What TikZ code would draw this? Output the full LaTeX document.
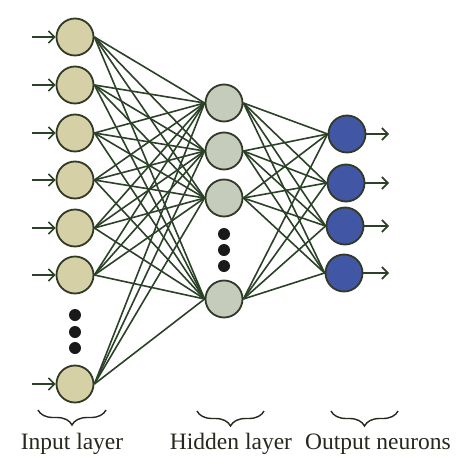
\documentclass[tikz,border=0pt]{standalone}
\usepackage{fontspec}
\setmainfont{Liberation Serif}
\usetikzlibrary{arrows.meta,decorations.pathreplacing}
\definecolor{inp}{RGB}{214,208,166}
\definecolor{hid}{RGB}{198,204,188}
\definecolor{outc}{RGB}{66,86,166}
\definecolor{edge}{RGB}{44,66,40}
\definecolor{rim}{RGB}{48,58,38}
\definecolor{txt}{RGB}{40,40,30}
\begin{document}
\begin{tikzpicture}[x=1pt,y=-1pt,
  neuron/.style={circle,draw=rim,line width=1.8pt,minimum size=37pt,inner sep=0pt},
  inneuron/.style={neuron,fill=inp},
  hidneuron/.style={neuron,fill=hid},
  outneuron/.style={neuron,fill=outc},
  dotc/.style={circle,fill=black!90,minimum size=12pt,inner sep=0pt},
  wire/.style={draw=edge,line width=1.6pt},
  io/.style={draw=edge,line width=1.6pt,-{Straight Barb[length=6pt,width=12pt,line width=1.6pt]}},
  brace/.style={draw=txt,line width=1.4pt,decorate,decoration={brace,amplitude=15pt,aspect=0.5}},
  lab/.style={text=txt,font=\fontsize{23.5}{28}\selectfont,inner sep=0pt}]
\useasboundingbox (0,0) rectangle (474,474);
\fill[white] (0,0) rectangle (474,474);
% input layer
\node[inneuron] (i1) at (75,37) {};
\node[inneuron] (i2) at (75,85) {};
\node[inneuron] (i3) at (75,133) {};
\node[inneuron] (i4) at (75,180) {};
\node[inneuron] (i5) at (75,228) {};
\node[inneuron] (i6) at (75,275) {};
\node[inneuron] (i7) at (75,384) {};
\node[dotc] (id1) at (75,315) {};
\node[dotc] (id2) at (75,332) {};
\node[dotc] (id3) at (75,348) {};
% hidden layer
\node[hidneuron] (h1) at (224,103) {};
\node[hidneuron] (h2) at (224,151) {};
\node[hidneuron] (h3) at (224,198) {};
\node[hidneuron] (h4) at (224,299) {};
\node[dotc] (hd1) at (224,234) {};
\node[dotc] (hd2) at (224,250) {};
\node[dotc] (hd3) at (224,266) {};
% output layer
\node[outneuron] (o1) at (347,134) {};
\node[outneuron] (o2) at (346,183) {};
\node[outneuron] (o3) at (345,226) {};
\node[outneuron] (o4) at (344,273) {};
% connections
\foreach \i in {1,...,7}{
  \foreach \h in {1,...,4}{
    \draw[wire] (i\i.east) -- (h\h.west);
  }
}
\foreach \h in {1,...,4}{
  \foreach \o in {1,...,4}{
    \draw[wire] (h\h.east) -- (o\o.west);
  }
}
% input arrows
\foreach \i/\y in {1/37,2/85,3/133,4/180,5/228,6/275,7/384}{
  \coordinate (ia\i) at (32,\y);
  \draw[io] (ia\i) -- (i\i.west);
}
% output arrows
\foreach \o/\y in {1/134,2/183,3/226,4/273}{
  \coordinate (oa\o) at (389,\y);
  \draw[io] (o\o.east) -- (oa\o);
}
% braces
\coordinate (b1a) at (106,410); \coordinate (b1b) at (38,410);
\coordinate (b2a) at (264,411); \coordinate (b2b) at (197,411);
\coordinate (b3a) at (398,411); \coordinate (b3b) at (331,411);
\draw[brace] (b1a) -- (b1b);
\draw[brace] (b2a) -- (b2b);
\draw[brace] (b3a) -- (b3b);
% labels
\node[lab] (l1) at (72,444) {Input layer};
\node[lab] (l2) at (231,444) {Hidden layer};
\node[lab] (l3) at (378,444) {Output neurons};
\end{tikzpicture}
\end{document}
